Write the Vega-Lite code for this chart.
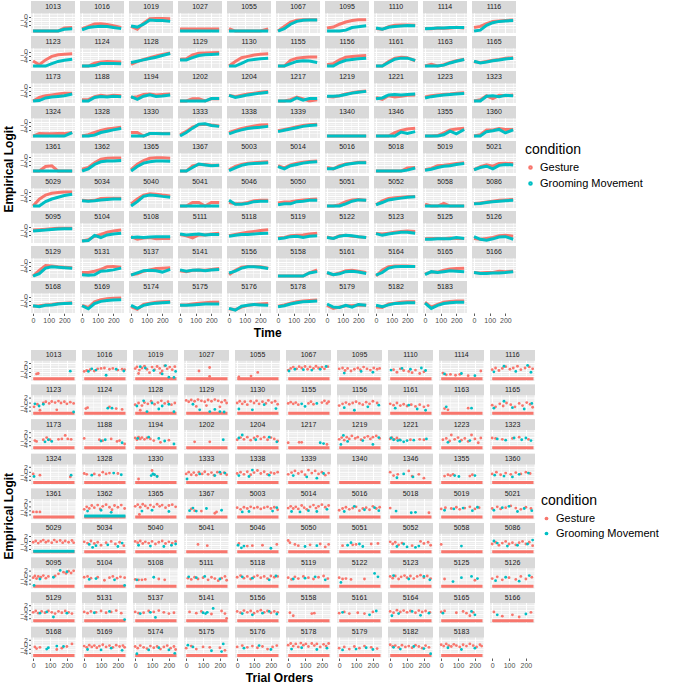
{
  "$schema": "https://vega.github.io/schema/vega-lite/v6.json",
  "description": "Empirical logit by subject: over time (top) and over trial order (bottom)",
  "background": "white",
  "padding": {"left": 2, "top": 0, "right": 0, "bottom": 0},
  "config": {
    "font": "Liberation Sans",
    "view": {"fill": "#EBEBEB", "stroke": null},
    "header": {"labelExpr": "''", "labelFontSize": 1, "labelPadding": 0, "title": null},
    "axis": {
      "domain": false,
      "gridColor": "#FFFFFF",
      "labelFontSize": 7,
      "labelColor": "#4D4D4D",
      "labelPadding": 1,
      "tickColor": "#333333",
      "tickSize": 2.5,
      "tickWidth": 0.8,
      "labelOverlap": false,
      "labelFlush": false,
      "labelBound": false,
      "title": null
    },
    "title": {"fontSize": 12, "fontWeight": "bold", "color": "#000000", "anchor": "middle", "offset": 0},
    "legend": {
      "titleFontSize": 14,
      "titleFontWeight": "normal",
      "titleColor": "#000000",
      "labelFontSize": 11,
      "labelColor": "#000000",
      "rowPadding": 3,
      "orient": "none"
    },
    "concat": {"spacing": 10}
  },
  "resolve": {"scale": {"color": "independent"}, "legend": {"color": "independent"}},
  "vconcat": [
    {
      "title": {"text": "Empirical Logit", "orient": "left"},
      "hconcat": [
        {
          "title": {"text": "Time", "orient": "bottom"},
          "data": {
            "values": "s,t,g,m\n1013,0,-6.6,-6.6\n1013,40,-6.6,-6.6\n1013,80,-6.6,-6.6\n1013,120,-6.6,-6.6\n1013,160,-6.6,-6.6\n1013,200,-5.2,-5.8\n1013,250,-5.0,-5.6\n1016,0,-5.5,-6.0\n1016,40,-4.5,-5.0\n1016,80,-3.4,-4.6\n1016,120,-3.3,-4.4\n1016,160,-3.6,-4.5\n1016,200,-4.2,-5.0\n1016,250,-5.0,-5.5\n1019,0,-4.5,-4.3\n1019,40,-5.8,-4.8\n1019,80,-3.0,-3.5\n1019,120,-1.0,-1.6\n1019,160,-0.9,-1.8\n1019,200,-0.9,-1.8\n1019,250,-1.0,-2.2\n1027,0,-5.7,-6.6\n1027,40,-5.7,-6.6\n1027,80,-5.7,-6.6\n1027,120,-5.7,-6.6\n1027,160,-5.7,-6.6\n1027,200,-5.7,-6.6\n1027,250,-5.7,-6.6\n1055,0,-5.5,-6.6\n1055,40,-6.6,-6.6\n1055,80,-6.6,-6.6\n1055,120,-6.6,-6.6\n1055,160,-6.6,-6.6\n1055,200,-6.6,-6.6\n1055,250,-5.6,-6.6\n1067,0,-6.6,-6.6\n1067,40,-4.5,-5.5\n1067,80,-2.5,-3.5\n1067,120,-1.7,-2.2\n1067,160,-1.5,-1.7\n1067,200,-1.5,-1.6\n1067,250,-1.5,-1.6\n1095,0,-5.2,-6.6\n1095,40,-4.8,-6.6\n1095,80,-3.5,-6.6\n1095,120,-2.5,-6.2\n1095,160,-1.8,-5.0\n1095,200,-1.5,-4.6\n1095,250,-1.4,-4.2\n1110,0,-5.5,-5.2\n1110,40,-5.8,-5.8\n1110,80,-4.6,-4.9\n1110,120,-4.0,-4.5\n1110,160,-3.9,-4.3\n1110,200,-3.8,-4.1\n1110,250,-4.0,-4.2\n1114,0,-5.5,-5.6\n1114,40,-5.6,-5.4\n1114,80,-5.2,-5.2\n1114,120,-5.3,-5.2\n1114,160,-5.2,-5.0\n1114,200,-4.9,-5.0\n1114,250,-5.2,-5.0\n1116,0,-5.0,-6.6\n1116,40,-4.5,-6.2\n1116,80,-3.2,-4.0\n1116,120,-2.2,-2.8\n1116,160,-2.0,-2.2\n1116,200,-1.8,-2.0\n1116,250,-1.6,-1.8\n1123,0,-4.3,-6.6\n1123,40,-6.0,-6.6\n1123,80,-3.8,-6.6\n1123,120,-2.2,-5.5\n1123,160,-1.5,-4.5\n1123,200,-1.2,-4.0\n1123,250,-1.0,-3.5\n1124,0,-6.6,-6.6\n1124,40,-6.6,-6.6\n1124,80,-5.3,-6.4\n1124,120,-4.8,-5.5\n1124,160,-4.5,-5.4\n1124,200,-4.6,-5.4\n1124,250,-4.8,-5.6\n1128,0,-5.8,-5.0\n1128,40,-4.6,-4.4\n1128,80,-3.6,-3.8\n1128,120,-2.8,-3.2\n1128,160,-2.0,-2.6\n1128,200,-1.3,-1.8\n1128,250,-0.6,-0.9\n1129,0,-3.5,-3.8\n1129,40,-3.3,-3.8\n1129,80,-1.5,-2.8\n1129,120,-0.8,-1.8\n1129,160,-0.6,-1.5\n1129,200,-0.5,-1.3\n1129,250,-0.4,-1.1\n1130,0,-6.6,-6.6\n1130,40,-4.5,-6.6\n1130,80,-2.8,-5.4\n1130,120,-2.2,-4.0\n1130,160,-1.6,-3.6\n1130,200,-1.2,-3.3\n1130,250,-1.0,-3.0\n1155,0,-6.6,-6.6\n1155,40,-6.6,-6.6\n1155,80,-4.0,-5.5\n1155,120,-3.0,-4.5\n1155,160,-2.7,-4.2\n1155,200,-2.5,-4.3\n1155,250,-2.5,-5.0\n1156,0,-6.0,-6.6\n1156,40,-5.5,-6.6\n1156,80,-3.8,-5.0\n1156,120,-2.6,-4.0\n1156,160,-2.2,-3.6\n1156,200,-2.0,-3.3\n1156,250,-1.8,-3.0\n1161,0,-6.6,-6.6\n1161,40,-6.6,-6.6\n1161,80,-4.5,-5.0\n1161,120,-3.0,-3.5\n1161,160,-2.6,-3.0\n1161,200,-2.8,-3.0\n1161,250,-4.2,-4.0\n1163,0,-6.6,-6.6\n1163,40,-5.8,-6.6\n1163,80,-6.6,-6.6\n1163,120,-6.0,-6.2\n1163,160,-5.0,-5.2\n1163,200,-4.2,-4.4\n1163,250,-3.5,-3.6\n1165,0,-4.6,-4.4\n1165,40,-5.0,-5.2\n1165,80,-4.5,-4.8\n1165,120,-4.0,-4.2\n1165,160,-3.6,-3.8\n1165,200,-3.0,-3.4\n1165,250,-2.8,-3.0\n1173,0,-6.6,-6.6\n1173,40,-5.0,-6.4\n1173,80,-4.2,-5.2\n1173,120,-3.8,-4.8\n1173,160,-3.4,-4.5\n1173,200,-3.0,-4.2\n1173,250,-3.0,-3.4\n1188,0,-6.0,-6.6\n1188,40,-6.0,-6.6\n1188,80,-4.6,-5.0\n1188,120,-4.0,-4.5\n1188,160,-4.4,-4.8\n1188,200,-4.0,-4.4\n1188,250,-4.2,-4.6\n1194,0,-5.0,-4.6\n1194,40,-4.6,-5.8\n1194,80,-3.6,-4.4\n1194,120,-3.4,-3.8\n1194,160,-3.8,-4.5\n1194,200,-3.6,-4.3\n1194,250,-3.4,-3.8\n1202,0,-6.6,-6.6\n1202,40,-6.6,-6.6\n1202,80,-5.6,-6.6\n1202,120,-5.6,-6.6\n1202,160,-6.6,-6.6\n1202,200,-5.6,-5.5\n1202,250,-5.6,-5.5\n1204,0,-4.0,-4.0\n1204,40,-4.6,-5.0\n1204,80,-4.0,-4.4\n1204,120,-3.4,-3.8\n1204,160,-3.0,-3.4\n1204,200,-2.6,-3.0\n1204,250,-2.2,-2.6\n1217,0,-6.6,-6.6\n1217,40,-6.6,-6.6\n1217,80,-6.0,-6.6\n1217,120,-4.8,-5.2\n1217,160,-5.6,-6.2\n1217,200,-6.6,-5.5\n1217,250,-6.0,-5.4\n1219,0,-4.5,-4.4\n1219,40,-4.8,-4.4\n1219,80,-4.2,-4.2\n1219,120,-3.4,-3.6\n1219,160,-2.8,-3.0\n1219,200,-2.4,-2.6\n1219,250,-2.0,-2.2\n1221,0,-5.0,-5.6\n1221,40,-5.8,-5.2\n1221,80,-4.2,-3.8\n1221,120,-4.8,-3.6\n1221,160,-4.4,-3.8\n1221,200,-4.0,-3.6\n1221,250,-3.8,-3.4\n1223,0,-4.8,-5.2\n1223,40,-4.2,-4.6\n1223,80,-3.8,-4.2\n1223,120,-3.6,-3.9\n1223,160,-3.4,-3.6\n1223,200,-3.0,-3.4\n1223,250,-2.8,-3.2\n1323,0,-6.6,-6.6\n1323,40,-6.0,-6.6\n1323,80,-4.2,-4.4\n1323,120,-5.5,-4.2\n1323,160,-4.0,-4.6\n1323,200,-4.2,-4.0\n1323,250,-3.8,-4.2\n1324,0,-6.6,-6.6\n1324,40,-5.5,-6.6\n1324,80,-5.6,-6.6\n1324,120,-5.6,-6.6\n1324,160,-5.5,-6.6\n1324,200,-5.5,-6.6\n1324,250,-5.0,-5.0\n1328,0,-6.6,-6.6\n1328,40,-6.0,-6.6\n1328,80,-5.0,-6.2\n1328,120,-4.0,-5.0\n1328,160,-3.4,-4.4\n1328,200,-3.0,-3.8\n1328,250,-2.6,-3.2\n1330,0,-5.0,-6.6\n1330,40,-5.0,-6.6\n1330,80,-6.6,-6.6\n1330,120,-5.4,-5.5\n1330,160,-5.4,-5.5\n1330,200,-5.5,-5.6\n1330,250,-5.5,-5.6\n1333,0,-6.0,-6.6\n1333,40,-4.5,-5.0\n1333,80,-2.5,-3.0\n1333,120,-1.4,-1.2\n1333,160,-1.2,-1.0\n1333,200,-1.6,-1.8\n1333,250,-2.0,-2.2\n1338,0,-5.0,-5.6\n1338,40,-4.0,-4.6\n1338,80,-3.2,-3.8\n1338,120,-2.6,-3.2\n1338,160,-2.0,-2.8\n1338,200,-1.6,-2.6\n1338,250,-1.4,-2.2\n1339,0,-4.2,-4.6\n1339,40,-3.6,-4.0\n1339,80,-3.0,-3.4\n1339,120,-2.4,-2.8\n1339,160,-1.8,-2.2\n1339,200,-1.4,-1.8\n1339,250,-1.2,-1.6\n1340,0,-6.6,-6.6\n1340,40,-6.6,-6.6\n1340,80,-6.6,-6.6\n1340,120,-6.6,-6.6\n1340,160,-6.6,-6.6\n1340,200,-6.6,-6.6\n1340,250,-6.6,-6.6\n1346,0,-6.6,-6.6\n1346,40,-6.6,-6.6\n1346,80,-6.6,-6.6\n1346,120,-5.0,-6.6\n1346,160,-4.0,-4.8\n1346,200,-3.4,-5.4\n1346,250,-3.0,-4.6\n1355,0,-6.6,-6.6\n1355,40,-6.6,-6.6\n1355,80,-6.4,-6.6\n1355,120,-5.2,-6.0\n1355,160,-3.8,-4.4\n1355,200,-3.4,-5.6\n1355,250,-3.0,-3.6\n1360,0,-6.6,-6.6\n1360,40,-6.0,-6.6\n1360,80,-3.8,-4.6\n1360,120,-3.8,-4.2\n1360,160,-3.2,-3.6\n1360,200,-3.6,-5.2\n1360,250,-3.6,-3.8\n1361,0,-6.6,-6.6\n1361,40,-6.6,-6.6\n1361,80,-4.5,-6.6\n1361,120,-4.2,-6.6\n1361,160,-6.6,-6.6\n1361,200,-6.6,-6.6\n1361,250,-6.6,-6.6\n1362,0,-5.8,-6.6\n1362,40,-5.0,-5.6\n1362,80,-2.8,-3.6\n1362,120,-1.2,-2.4\n1362,160,-0.8,-2.0\n1362,200,-0.6,-2.0\n1362,250,-0.6,-1.8\n1365,0,-6.0,-6.6\n1365,40,-3.5,-4.5\n1365,80,-1.8,-3.0\n1365,120,-0.8,-2.4\n1365,160,-0.5,-2.0\n1365,200,-0.5,-2.0\n1365,250,-0.8,-2.1\n1367,0,-6.6,-6.6\n1367,40,-6.6,-6.6\n1367,80,-4.2,-5.0\n1367,120,-3.6,-3.4\n1367,160,-3.6,-3.8\n1367,200,-4.0,-4.2\n1367,250,-4.0,-4.0\n5003,0,-6.0,-6.4\n5003,40,-4.5,-5.2\n5003,80,-3.6,-4.0\n5003,120,-3.0,-3.4\n5003,160,-2.8,-3.2\n5003,200,-2.6,-3.0\n5003,250,-2.4,-2.8\n5014,0,-4.2,-4.6\n5014,40,-5.2,-5.6\n5014,80,-3.8,-4.2\n5014,120,-3.0,-3.6\n5014,160,-2.6,-3.0\n5014,200,-2.2,-2.6\n5014,250,-2.0,-2.4\n5016,0,-5.0,-5.6\n5016,40,-5.6,-5.6\n5016,80,-4.2,-4.6\n5016,120,-3.4,-3.6\n5016,160,-3.0,-3.2\n5016,200,-2.6,-2.8\n5016,250,-2.6,-2.8\n5018,0,-6.6,-6.6\n5018,40,-6.6,-6.6\n5018,80,-6.6,-6.6\n5018,120,-6.6,-6.6\n5018,160,-6.6,-6.6\n5018,200,-5.2,-6.2\n5018,250,-5.0,-5.2\n5019,0,-6.0,-6.2\n5019,40,-5.4,-5.8\n5019,80,-4.2,-5.0\n5019,120,-4.0,-4.4\n5019,160,-3.6,-4.2\n5019,200,-3.2,-3.6\n5019,250,-2.8,-3.2\n5021,0,-6.0,-6.0\n5021,40,-4.6,-5.0\n5021,80,-3.8,-4.4\n5021,120,-4.4,-5.6\n5021,160,-3.2,-4.0\n5021,200,-3.0,-3.6\n5021,250,-3.2,-3.8\n5029,0,-6.6,-6.6\n5029,40,-3.5,-6.6\n5029,80,-1.6,-4.6\n5029,120,-0.8,-3.4\n5029,160,-0.4,-2.6\n5029,200,-0.2,-1.8\n5029,250,-0.2,-1.2\n5034,0,-4.0,-4.2\n5034,40,-4.2,-4.4\n5034,80,-4.0,-4.2\n5034,120,-3.2,-3.8\n5034,160,-3.0,-3.6\n5034,200,-3.0,-3.4\n5034,250,-3.0,-3.4\n5040,0,-5.6,-6.6\n5040,40,-3.4,-4.6\n5040,80,-1.6,-2.2\n5040,120,-1.0,-1.6\n5040,160,-1.2,-1.8\n5040,200,-1.6,-2.2\n5040,250,-2.0,-2.6\n5041,0,-6.6,-6.6\n5041,40,-6.6,-6.6\n5041,80,-5.0,-6.6\n5041,120,-5.0,-6.6\n5041,160,-6.6,-6.6\n5041,200,-5.0,-6.6\n5041,250,-5.0,-6.6\n5046,0,-5.0,-4.0\n5046,40,-5.6,-5.8\n5046,80,-5.6,-5.8\n5046,120,-5.0,-5.4\n5046,160,-4.2,-4.6\n5046,200,-4.0,-4.4\n5046,250,-4.0,-4.4\n5050,0,-5.2,-6.0\n5050,40,-4.8,-5.6\n5050,80,-4.6,-5.6\n5050,120,-4.2,-4.6\n5050,160,-3.8,-4.4\n5050,200,-3.6,-4.0\n5050,250,-3.4,-4.0\n5051,0,-6.6,-6.6\n5051,40,-6.6,-6.6\n5051,80,-6.0,-6.6\n5051,120,-4.6,-5.6\n5051,160,-3.8,-4.4\n5051,200,-3.6,-3.8\n5051,250,-4.0,-4.0\n5052,0,-6.0,-6.0\n5052,40,-4.2,-5.0\n5052,80,-3.2,-3.8\n5052,120,-2.8,-3.4\n5052,160,-2.6,-3.0\n5052,200,-2.4,-2.6\n5052,250,-2.2,-2.4\n5058,0,-5.8,-6.6\n5058,40,-6.6,-6.6\n5058,80,-6.6,-6.6\n5058,120,-5.4,-6.6\n5058,160,-6.6,-6.6\n5058,200,-6.6,-6.6\n5058,250,-6.6,-6.6\n5086,0,-5.6,-5.6\n5086,40,-5.2,-5.4\n5086,80,-4.8,-5.0\n5086,120,-4.4,-4.6\n5086,160,-4.0,-4.4\n5086,200,-3.8,-4.2\n5086,250,-3.6,-4.0\n5095,0,-1.6,-2.0\n5095,40,-1.4,-1.8\n5095,80,-1.2,-1.6\n5095,120,-1.0,-1.3\n5095,160,-0.8,-1.1\n5095,200,-0.8,-1.0\n5095,250,-0.8,-1.0\n5104,0,-6.6,-6.6\n5104,40,-6.0,-6.4\n5104,80,-4.4,-4.0\n5104,120,-3.6,-5.0\n5104,160,-2.6,-3.8\n5104,200,-2.0,-3.4\n5104,250,-1.6,-3.0\n5108,0,-4.6,-5.0\n5108,40,-5.8,-4.8\n5108,80,-5.2,-5.0\n5108,120,-5.0,-4.8\n5108,160,-5.6,-4.6\n5108,200,-5.4,-4.6\n5108,250,-5.4,-4.6\n5111,0,-3.6,-3.4\n5111,40,-4.2,-3.8\n5111,80,-5.2,-3.6\n5111,120,-3.8,-3.4\n5111,160,-3.8,-3.8\n5111,200,-3.4,-3.6\n5111,250,-3.0,-3.6\n5118,0,-4.2,-4.4\n5118,40,-3.6,-4.0\n5118,80,-3.0,-3.6\n5118,120,-2.6,-3.6\n5118,160,-2.2,-3.4\n5118,200,-1.8,-3.2\n5118,250,-1.5,-3.0\n5119,0,-5.2,-5.6\n5119,40,-5.0,-5.2\n5119,80,-4.2,-4.6\n5119,120,-4.0,-4.4\n5119,160,-3.8,-5.0\n5119,200,-3.4,-4.4\n5119,250,-3.0,-4.2\n5122,0,-4.8,-5.0\n5122,40,-5.4,-5.4\n5122,80,-4.2,-4.4\n5122,120,-4.0,-4.0\n5122,160,-4.4,-4.2\n5122,200,-4.6,-4.6\n5122,250,-5.0,-5.0\n5123,0,-3.2,-3.2\n5123,40,-3.4,-4.0\n5123,80,-3.0,-3.4\n5123,120,-2.6,-3.0\n5123,160,-2.2,-2.6\n5123,200,-2.0,-2.6\n5123,250,-2.2,-3.0\n5125,0,-5.6,-5.8\n5125,40,-5.4,-5.8\n5125,80,-5.4,-5.6\n5125,120,-5.6,-5.6\n5125,160,-5.2,-5.6\n5125,200,-5.4,-5.0\n5125,250,-5.4,-5.4\n5126,0,-5.4,-4.6\n5126,40,-5.8,-5.8\n5126,80,-5.4,-6.2\n5126,120,-5.0,-5.6\n5126,160,-4.2,-4.8\n5126,200,-4.0,-4.6\n5126,250,-4.4,-5.8\n5129,0,-6.6,-6.6\n5129,40,-4.0,-5.5\n5129,80,-1.8,-3.0\n5129,120,-2.0,-2.4\n5129,160,-2.4,-2.6\n5129,200,-2.6,-2.8\n5129,250,-2.8,-3.0\n5131,0,-5.0,-6.0\n5131,40,-5.0,-6.2\n5131,80,-4.4,-6.0\n5131,120,-3.6,-4.4\n5131,160,-2.4,-4.2\n5131,200,-2.2,-3.8\n5131,250,-2.6,-3.0\n5137,0,-6.0,-6.2\n5137,40,-5.6,-5.2\n5137,80,-4.4,-4.2\n5137,120,-3.8,-4.0\n5137,160,-3.2,-4.2\n5137,200,-3.0,-4.8\n5137,250,-2.8,-3.6\n5141,0,-4.2,-3.8\n5141,40,-4.6,-4.4\n5141,80,-4.0,-4.0\n5141,120,-3.8,-3.8\n5141,160,-4.0,-4.2\n5141,200,-3.6,-3.8\n5141,250,-3.2,-3.6\n5156,0,-6.0,-5.2\n5156,40,-4.0,-4.4\n5156,80,-2.6,-3.0\n5156,120,-2.2,-2.4\n5156,160,-2.2,-2.4\n5156,200,-2.4,-2.6\n5156,250,-3.0,-3.2\n5158,0,-6.6,-6.6\n5158,40,-6.6,-6.6\n5158,80,-6.6,-6.6\n5158,120,-6.6,-6.6\n5158,160,-6.6,-6.6\n5158,200,-5.2,-5.2\n5158,250,-3.8,-4.6\n5161,0,-5.2,-5.0\n5161,40,-6.0,-6.0\n5161,80,-5.2,-5.6\n5161,120,-4.2,-4.6\n5161,160,-4.0,-4.4\n5161,200,-4.4,-4.8\n5161,250,-5.0,-5.4\n5164,0,-6.6,-6.2\n5164,40,-3.8,-5.0\n5164,80,-2.4,-3.0\n5164,120,-2.0,-2.4\n5164,160,-2.0,-2.2\n5164,200,-2.0,-2.2\n5164,250,-2.2,-2.2\n5165,0,-5.6,-6.0\n5165,40,-4.8,-4.6\n5165,80,-4.8,-5.0\n5165,120,-4.0,-4.6\n5165,160,-3.4,-4.2\n5165,200,-3.2,-4.4\n5165,250,-3.0,-4.6\n5166,0,-5.0,-5.0\n5166,40,-5.2,-5.4\n5166,80,-5.0,-5.4\n5166,120,-5.0,-5.2\n5166,160,-4.4,-5.2\n5166,200,-4.6,-5.0\n5166,250,-4.4,-4.6\n5168,0,-4.4,-4.2\n5168,40,-4.2,-4.6\n5168,80,-3.8,-4.0\n5168,120,-3.6,-3.8\n5168,160,-3.2,-3.4\n5168,200,-3.0,-3.2\n5168,250,-2.8,-3.0\n5169,0,-4.0,-4.2\n5169,40,-5.0,-5.6\n5169,80,-2.4,-3.2\n5169,120,-1.4,-2.2\n5169,160,-1.0,-1.8\n5169,200,-0.8,-1.6\n5169,250,-0.6,-1.4\n5174,0,-4.6,-4.0\n5174,40,-5.8,-5.4\n5174,80,-3.6,-4.0\n5174,120,-3.0,-3.4\n5174,160,-2.6,-3.0\n5174,200,-2.4,-2.8\n5174,250,-2.2,-2.6\n5175,0,-3.8,-4.0\n5175,40,-3.8,-4.0\n5175,80,-3.4,-3.8\n5175,120,-3.0,-3.6\n5175,160,-2.8,-3.4\n5175,200,-2.6,-3.4\n5175,250,-2.6,-3.4\n5176,0,-5.6,-5.4\n5176,40,-6.0,-6.2\n5176,80,-4.8,-4.4\n5176,120,-4.0,-4.0\n5176,160,-3.6,-3.6\n5176,200,-3.4,-3.8\n5176,250,-3.2,-4.0\n5178,0,-4.4,-4.6\n5178,40,-3.8,-4.2\n5178,80,-3.0,-3.4\n5178,120,-2.4,-2.8\n5178,160,-2.0,-2.4\n5178,200,-1.8,-2.2\n5178,250,-1.6,-2.0\n5179,0,-4.0,-3.4\n5179,40,-5.4,-4.8\n5179,80,-4.8,-5.0\n5179,120,-4.2,-4.0\n5179,160,-4.2,-4.8\n5179,200,-3.8,-3.6\n5179,250,-4.0,-4.0\n5182,0,-4.8,-4.0\n5182,40,-5.0,-4.6\n5182,80,-3.4,-3.8\n5182,120,-3.0,-3.2\n5182,160,-2.6,-3.0\n5182,200,-2.4,-2.8\n5182,250,-2.4,-2.8\n5183,0,-2.6,-3.0\n5183,40,-4.8,-5.4\n5183,80,-3.6,-4.0\n5183,120,-2.6,-3.2\n5183,160,-2.2,-2.8\n5183,200,-2.0,-2.6\n5183,250,-2.0,-2.6",
            "format": {"type": "csv", "parse": {"s": "string", "t": "number", "g": "number", "m": "number"}}
          },
          "transform": [{"fold": ["g", "m"], "as": ["c", "v"]}],
          "facet": {"field": "s", "type": "ordinal", "header": {"labelExpr": "''", "labelFontSize": 1, "labelPadding": 0, "title": null}},
          "columns": 10,
          "bounds": "flush",
          "spacing": {"row": 3, "column": 5},
          "spec": {
            "width": 44,
            "height": 32,
            "layer": [
              {
                "mark": {"type": "line", "strokeWidth": 3, "clip": true},
                "encoding": {
                  "x": {
                    "field": "t", "type": "quantitative",
                    "scale": {"domain": [-13, 268], "nice": false, "zero": false},
                    "axis": {"values": [0, 50, 100, 150, 200, 250], "labelOverlap": false, "labelExpr": "datum.value % 100 == 0 ? datum.label : ''", "gridWidth": {"condition": {"test": "datum.value % 100 == 0", "value": 1}, "value": 0.5}, "tickOpacity": {"condition": {"test": "datum.value % 100 == 0", "value": 1}, "value": 0}}
                  },
                  "y": {
                    "field": "v", "type": "quantitative",
                    "scale": {"domain": [-7.5, 7.1], "nice": false, "zero": false},
                    "axis": {"values": [-5, -4, -3, -2, -1, 0, 1], "labelOverlap": false, "labelExpr": "datum.value % 2 == 0 ? datum.label : ''", "gridWidth": {"condition": {"test": "datum.value % 2 == 0", "value": 1}, "value": 0.5}, "tickOpacity": {"condition": {"test": "datum.value % 2 == 0", "value": 1}, "value": 0}}
                  },
                  "color": {
                    "field": "c", "type": "nominal",
                    "scale": {"domain": ["g", "m"], "range": ["#F8766D", "#00BFC4"]},
                    "legend": {
                      "title": "condition",
                      "labelExpr": "datum.value == 'g' ? 'Gesture' : 'Grooming Movement'",
                      "symbolType": "circle",
                      "symbolSize": 4,
                      "symbolStrokeWidth": 2.6,
                      "legendX": 494,
                      "legendY": 142
                    }
                  }
                }
              },
              {
                "transform": [{"aggregate": [{"op": "count", "as": "n"}], "groupby": ["s"]}],
                "mark": {"type": "rect", "color": "#D9D9D9"},
                "encoding": {
                  "x": {"datum": -13, "scale": {"domain": [-13, 268], "nice": false, "zero": false}, "axis": {"values": [0, 50, 100, 150, 200, 250], "labelOverlap": false, "labelExpr": "datum.value % 100 == 0 ? datum.label : ''", "gridWidth": {"condition": {"test": "datum.value % 100 == 0", "value": 1}, "value": 0.5}, "tickOpacity": {"condition": {"test": "datum.value % 100 == 0", "value": 1}, "value": 0}}},
                  "x2": {"datum": 268},
                  "y": {"datum": 1.5, "scale": {"domain": [-7.5, 7.1], "nice": false, "zero": false}, "axis": {"values": [-5, -4, -3, -2, -1, 0, 1], "labelOverlap": false, "labelExpr": "datum.value % 2 == 0 ? datum.label : ''", "gridWidth": {"condition": {"test": "datum.value % 2 == 0", "value": 1}, "value": 0.5}, "tickOpacity": {"condition": {"test": "datum.value % 2 == 0", "value": 1}, "value": 0}}},
                  "y2": {"datum": 7.1}
                }
              },
              {
                "transform": [{"aggregate": [{"op": "count", "as": "n"}], "groupby": ["s"]}],
                "mark": {"type": "text", "fontSize": 7, "color": "#1A1A1A", "baseline": "middle"},
                "encoding": {
                  "x": {"datum": 127.5, "scale": {"domain": [-13, 268], "nice": false, "zero": false}, "axis": {"values": [0, 50, 100, 150, 200, 250], "labelOverlap": false, "labelExpr": "datum.value % 100 == 0 ? datum.label : ''", "gridWidth": {"condition": {"test": "datum.value % 100 == 0", "value": 1}, "value": 0.5}, "tickOpacity": {"condition": {"test": "datum.value % 100 == 0", "value": 1}, "value": 0}}},
                  "y": {"datum": 4.3, "scale": {"domain": [-7.5, 7.1], "nice": false, "zero": false}, "axis": {"values": [-5, -4, -3, -2, -1, 0, 1], "labelOverlap": false, "labelExpr": "datum.value % 2 == 0 ? datum.label : ''", "gridWidth": {"condition": {"test": "datum.value % 2 == 0", "value": 1}, "value": 0.5}, "tickOpacity": {"condition": {"test": "datum.value % 2 == 0", "value": 1}, "value": 0}}},
                  "text": {"field": "s", "type": "nominal"}
                }
              }
            ]
          }
        }
      ]
    },
    {
      "title": {"text": "Empirical Logit", "orient": "left"},
      "hconcat": [
        {
          "title": {"text": "Trial Orders", "orient": "bottom"},
          "data": {
            "values": "s,c,t,v\n1013,B,0,-5.2\n1013,B,245,-5.2\n1016,B,0,-5.2\n1016,B,245,-5.2\n1019,B,0,-5.2\n1019,B,245,-5.2\n1027,B,0,-5.2\n1027,B,245,-5.2\n1055,B,0,-5.2\n1055,B,245,-5.2\n1067,B,0,-5.2\n1067,B,245,-5.2\n1095,B,0,-5.2\n1095,B,245,-5.2\n1110,B,0,-5.2\n1110,B,245,-5.2\n1114,B,0,-5.2\n1114,B,245,-5.2\n1116,B,0,-5.2\n1116,B,245,-5.2\n1123,B,0,-5.2\n1123,B,245,-5.2\n1124,B,0,-5.2\n1124,B,245,-5.2\n1128,B,0,-5.2\n1128,B,245,-5.2\n1129,B,0,-5.2\n1129,B,245,-5.2\n1130,B,0,-5.2\n1130,B,245,-5.2\n1155,B,0,-5.2\n1155,B,245,-5.2\n1156,B,0,-5.2\n1156,B,245,-5.2\n1161,B,0,-5.2\n1161,B,245,-5.2\n1163,B,0,-5.2\n1163,B,245,-5.2\n1165,B,0,-5.2\n1165,B,245,-5.2\n1173,B,0,-5.2\n1173,B,245,-5.2\n1188,B,0,-5.2\n1188,B,245,-5.2\n1194,B,0,-5.2\n1194,B,245,-5.2\n1202,B,0,-5.2\n1202,B,245,-5.2\n1204,B,0,-5.2\n1204,B,245,-5.2\n1217,B,0,-5.2\n1217,B,245,-5.2\n1219,B,0,-5.2\n1219,B,245,-5.2\n1221,B,0,-5.2\n1221,B,245,-5.2\n1223,B,0,-5.2\n1223,B,245,-5.2\n1323,B,0,-5.2\n1323,B,245,-5.2\n1324,B,0,-5.2\n1324,B,245,-5.2\n1328,B,0,-5.2\n1328,B,245,-5.2\n1330,B,0,-5.2\n1330,B,245,-5.2\n1333,B,0,-5.2\n1333,B,245,-5.2\n1338,B,0,-5.2\n1338,B,245,-5.2\n1339,B,0,-5.2\n1339,B,245,-5.2\n1340,B,0,-5.2\n1340,B,245,-5.2\n1346,B,0,-5.2\n1346,B,245,-5.2\n1355,B,0,-5.2\n1355,B,245,-5.2\n1360,B,0,-5.2\n1360,B,245,-5.2\n1361,B,0,-5.2\n1361,B,245,-5.2\n1362,B,0,-5.2\n1362,B,245,-5.2\n1365,B,0,-5.2\n1365,B,245,-5.2\n1367,B,0,-5.2\n1367,B,245,-5.2\n5003,B,0,-5.2\n5003,B,245,-5.2\n5014,B,0,-5.2\n5014,B,245,-5.2\n5016,B,0,-5.2\n5016,B,245,-5.2\n5018,B,0,-5.2\n5018,B,245,-5.2\n5019,B,0,-5.2\n5019,B,245,-5.2\n5021,B,0,-5.2\n5021,B,245,-5.2\n5029,B,0,-5.2\n5029,B,245,-5.2\n5034,B,0,-5.2\n5034,B,245,-5.2\n5040,B,0,-5.2\n5040,B,245,-5.2\n5041,B,0,-5.2\n5041,B,245,-5.2\n5046,B,0,-5.2\n5046,B,245,-5.2\n5050,B,0,-5.2\n5050,B,245,-5.2\n5051,B,0,-5.2\n5051,B,245,-5.2\n5052,B,0,-5.2\n5052,B,245,-5.2\n5058,B,0,-5.2\n5058,B,245,-5.2\n5086,B,0,-5.2\n5086,B,245,-5.2\n5095,B,0,-5.2\n5095,B,245,-5.2\n5104,B,0,-5.2\n5104,B,245,-5.2\n5108,B,0,-5.2\n5108,B,245,-5.2\n5111,B,0,-5.2\n5111,B,245,-5.2\n5118,B,0,-5.2\n5118,B,245,-5.2\n5119,B,0,-5.2\n5119,B,245,-5.2\n5122,B,0,-5.2\n5122,B,245,-5.2\n5123,B,0,-5.2\n5123,B,245,-5.2\n5125,B,0,-5.2\n5125,B,245,-5.2\n5126,B,0,-5.2\n5126,B,245,-5.2\n5129,B,0,-5.2\n5129,B,245,-5.2\n5131,B,0,-5.2\n5131,B,245,-5.2\n5137,B,0,-5.2\n5137,B,245,-5.2\n5141,B,0,-5.2\n5141,B,245,-5.2\n5156,B,0,-5.2\n5156,B,245,-5.2\n5158,B,0,-5.2\n5158,B,245,-5.2\n5161,B,0,-5.2\n5161,B,245,-5.2\n5164,B,0,-5.2\n5164,B,245,-5.2\n5165,B,0,-5.2\n5165,B,245,-5.2\n5166,B,0,-5.2\n5166,B,245,-5.2\n5168,B,0,-5.2\n5168,B,245,-5.2\n5169,B,0,-5.2\n5169,B,245,-5.2\n5174,B,0,-5.2\n5174,B,245,-5.2\n5175,B,0,-5.2\n5175,B,245,-5.2\n5176,B,0,-5.2\n5176,B,245,-5.2\n5178,B,0,-5.2\n5178,B,245,-5.2\n5179,B,0,-5.2\n5179,B,245,-5.2\n5182,B,0,-5.2\n5182,B,245,-5.2\n5183,B,0,-5.2\n5183,B,245,-5.2\n1362,C,0,-4.7\n1362,C,245,-4.7\n5029,C,0,-5.0\n5029,C,245,-5.0\n1013,G,20,-3.0\n1013,G,30,-2.8\n1013,M,220,-1.7\n1016,G,0,-1.8\n1016,G,15,-1.4\n1016,G,35,-1.0\n1016,G,60,-1.6\n1016,G,80,-0.6\n1016,G,100,-0.4\n1016,G,120,-0.2\n1016,G,150,-0.8\n1016,G,170,-0.4\n1016,G,200,-1.2\n1016,G,225,-0.8\n1016,G,240,-1.0\n1016,M,25,-1.8\n1016,M,45,-0.6\n1016,M,70,-1.2\n1016,M,130,-3.6\n1016,M,190,-0.8\n1016,M,235,-1.6\n1019,G,0,-0.5\n1019,G,10,0.3\n1019,G,25,-1.2\n1019,G,40,-0.2\n1019,G,55,0.6\n1019,G,70,-0.8\n1019,G,85,-2.4\n1019,G,100,0.2\n1019,G,115,-1.0\n1019,G,130,0.5\n1019,G,145,-0.4\n1019,G,160,-1.6\n1019,G,175,0.8\n1019,G,190,-0.6\n1019,G,205,0.2\n1019,G,220,-1.0\n1019,G,235,0.4\n1019,G,20,-2.8\n1019,G,150,-2.6\n1019,M,30,0.4\n1019,M,60,-0.2\n1019,M,110,-1.4\n1019,M,160,-3.0\n1019,M,180,0.9\n1019,M,200,-4.5\n1019,M,230,-4.6\n1019,M,240,-1.8\n1027,G,76,-1.6\n1027,G,139,0.0\n1027,G,139,-4.2\n1055,G,10,-4.4\n1055,G,82,-4.0\n1055,G,122,-2.3\n1067,G,0,-1.2\n1067,G,15,-0.4\n1067,G,30,0.2\n1067,G,50,-0.6\n1067,G,65,0.4\n1067,G,80,-0.2\n1067,G,100,0.5\n1067,G,115,-0.8\n1067,G,130,0.3\n1067,G,150,-0.4\n1067,G,165,0.6\n1067,G,180,-0.2\n1067,G,200,0.2\n1067,G,215,-0.6\n1067,G,235,0.4\n1067,M,5,-1.6\n1067,M,40,-0.8\n1067,M,90,-1.0\n1067,M,140,-1.2\n1067,M,190,-0.8\n1067,M,225,0.5\n1095,G,0,-0.6\n1095,G,20,-0.2\n1095,G,35,-1.4\n1095,G,50,-0.4\n1095,G,70,-1.6\n1095,G,90,-0.8\n1095,G,110,-0.2\n1095,G,125,-1.0\n1095,G,145,0.2\n1095,G,165,-0.6\n1095,G,185,-1.2\n1095,G,205,-0.2\n1095,G,225,-0.8\n1095,G,240,-0.4\n1095,M,30,-2.6\n1095,M,130,-1.8\n1095,M,200,-2.2\n1110,G,20,-1.0\n1110,G,40,-2.2\n1110,G,60,-0.6\n1110,G,80,-1.4\n1110,G,110,-1.8\n1110,G,130,-2.4\n1110,G,150,-1.2\n1110,G,175,-2.8\n1110,G,200,-2.0\n1110,M,5,-1.2\n1110,M,70,-0.4\n1110,M,120,-0.8\n1110,M,185,-0.2\n1110,M,210,-1.4\n1114,G,10,-2.6\n1114,G,30,-3.4\n1114,G,55,-3.2\n1114,G,85,-3.6\n1114,G,110,-3.2\n1114,G,160,-3.8\n1114,G,235,-1.6\n1114,M,20,-3.0\n1114,M,200,-3.8\n1114,M,120,-2.8\n1116,G,0,-1.0\n1116,G,20,-0.2\n1116,G,40,-1.4\n1116,G,60,-0.4\n1116,G,80,0.4\n1116,G,105,-0.8\n1116,G,125,-0.2\n1116,G,150,0.6\n1116,G,170,-1.0\n1116,G,195,-0.2\n1116,G,220,0.3\n1116,G,240,-0.6\n1116,M,10,-2.0\n1116,M,70,0.6\n1116,M,140,-1.8\n1116,M,210,1.0\n1116,M,230,-2.2\n1123,G,5,-2.2\n1123,G,25,-1.0\n1123,G,60,-0.4\n1123,G,75,0.2\n1123,G,95,-0.6\n1123,G,110,0.3\n1123,G,130,-0.2\n1123,G,150,0.5\n1123,G,165,-0.4\n1123,G,185,0.2\n1123,G,200,-0.8\n1123,G,220,0.0\n1123,G,240,-0.6\n1123,G,40,-3.8\n1123,G,140,-3.6\n1123,M,10,-0.8\n1123,M,35,-1.8\n1123,M,60,-1.0\n1123,M,240,-4.6\n1124,G,10,-3.0\n1124,G,20,-2.6\n1124,G,150,-2.2\n1124,G,190,-3.0\n1124,G,225,-3.4\n1124,M,140,-2.8\n1124,M,165,-2.8\n1128,G,0,-1.2\n1128,G,20,-0.4\n1128,G,40,-1.6\n1128,G,55,-0.2\n1128,G,75,-0.8\n1128,G,95,0.4\n1128,G,115,-1.0\n1128,G,135,-0.2\n1128,G,155,0.6\n1128,G,175,-0.6\n1128,G,195,0.2\n1128,G,215,-1.2\n1128,G,235,-0.4\n1128,G,30,-3.8\n1128,M,10,-1.8\n1128,M,50,0.6\n1128,M,70,-4.4\n1128,M,100,-0.4\n1128,M,140,-3.2\n1128,M,160,-1.8\n1128,M,200,-1.0\n1128,M,230,-4.5\n1129,G,0,0.8\n1129,G,15,0.2\n1129,G,30,1.0\n1129,G,50,0.4\n1129,G,70,1.2\n1129,G,90,0.6\n1129,G,110,0.2\n1129,G,130,1.0\n1129,G,150,0.4\n1129,G,170,1.2\n1129,G,190,0.6\n1129,G,210,0.0\n1129,G,230,0.8\n1129,G,240,-0.4\n1129,G,60,-2.0\n1129,G,120,-1.6\n1129,G,200,-2.2\n1129,M,40,-1.0\n1129,M,80,-3.6\n1129,M,140,-4.4\n1129,M,170,-3.4\n1129,M,200,-4.4\n1129,M,225,-4.6\n1130,G,0,-0.4\n1130,G,15,0.4\n1130,G,30,-0.8\n1130,G,45,0.2\n1130,G,60,-1.2\n1130,G,80,0.4\n1130,G,100,-0.4\n1130,G,115,0.6\n1130,G,130,-0.8\n1130,G,150,0.2\n1130,G,170,-0.6\n1130,G,185,0.8\n1130,G,205,-0.2\n1130,G,225,0.4\n1130,G,240,-1.0\n1130,M,10,-3.2\n1130,M,90,-3.6\n1130,M,160,-1.2\n1130,M,230,-3.0\n1155,G,0,-0.6\n1155,G,15,0.0\n1155,G,30,-0.8\n1155,G,45,-0.2\n1155,G,60,-1.2\n1155,G,120,-0.6\n1155,G,135,0.2\n1155,G,150,-1.0\n1155,G,200,-0.2\n1155,G,215,0.6\n1155,G,230,-0.6\n1155,G,240,0.2\n1155,M,80,-0.8\n1155,M,170,-0.6\n1155,M,100,-2.0\n1156,G,0,-1.6\n1156,G,20,-0.8\n1156,G,40,-0.2\n1156,G,60,-1.0\n1156,G,80,-0.4\n1156,G,100,0.2\n1156,G,120,-0.6\n1156,G,140,-1.2\n1156,G,160,0.0\n1156,G,180,-0.8\n1156,G,200,0.4\n1156,G,225,-0.4\n1156,M,30,-2.6\n1156,M,90,-3.8\n1156,M,170,-2.2\n1156,M,235,-1.4\n1161,G,0,-0.8\n1161,G,20,-1.4\n1161,G,40,-0.4\n1161,G,60,-1.6\n1161,G,80,-1.0\n1161,G,100,-1.8\n1161,G,125,-1.2\n1161,G,150,-2.0\n1161,G,175,-1.2\n1161,G,200,-2.2\n1161,G,225,-1.6\n1161,M,30,-2.8\n1161,M,110,-1.4\n1161,M,160,-3.2\n1161,M,210,-3.8\n1163,G,20,-3.0\n1163,G,40,-3.6\n1163,G,160,-2.8\n1163,M,30,-2.2\n1163,M,180,-2.8\n1165,G,0,-1.4\n1165,G,20,-2.2\n1165,G,45,-0.8\n1165,G,65,-1.8\n1165,G,85,-0.4\n1165,G,110,-1.2\n1165,G,135,-2.2\n1165,G,160,-0.6\n1165,G,180,-1.6\n1165,G,205,-0.2\n1165,G,225,-1.0\n1165,G,240,-2.4\n1165,M,10,-2.8\n1165,M,70,0.4\n1165,M,120,-2.6\n1165,M,190,-3.2\n1165,M,235,-0.6\n1173,G,10,-1.8\n1173,G,20,-2.2\n1173,G,60,-1.4\n1173,G,80,-0.4\n1173,G,100,-1.4\n1173,G,150,-1.2\n1173,G,170,-1.0\n1173,G,190,0.6\n1173,G,205,-1.0\n1173,G,225,-1.2\n1173,M,70,-2.4\n1173,M,90,-1.4\n1173,M,110,-2.2\n1188,G,0,-0.8\n1188,G,90,-1.4\n1188,G,110,-1.8\n1188,G,160,-1.0\n1188,G,195,-2.2\n1188,G,210,-1.8\n1188,G,240,-3.4\n1188,M,100,-2.0\n1188,M,125,-1.4\n1188,M,225,-2.8\n1194,G,0,-0.6\n1194,G,10,-1.4\n1194,G,20,-0.2\n1194,G,30,-1.0\n1194,G,40,-0.4\n1194,G,55,-1.2\n1194,G,70,-0.6\n1194,G,90,-1.0\n1194,G,110,-1.8\n1194,G,150,-2.6\n1194,G,200,-1.6\n1194,M,15,-0.8\n1194,M,80,-0.2\n1194,M,140,-0.8\n1194,M,175,-2.0\n1194,M,230,-3.4\n1202,G,50,-2.4\n1202,G,140,-2.4\n1202,M,220,-1.4\n1204,G,0,-1.4\n1204,G,20,-0.4\n1204,G,40,-1.2\n1204,G,60,-0.2\n1204,G,80,-1.6\n1204,G,100,-0.6\n1204,G,120,0.2\n1204,G,140,-1.0\n1204,G,160,-0.2\n1204,G,180,-1.4\n1204,G,200,-0.4\n1204,G,220,-1.0\n1204,G,240,-2.0\n1204,M,10,-0.6\n1204,M,30,0.8\n1204,M,110,-1.4\n1204,M,190,-0.2\n1204,M,235,-2.4\n1217,G,0,-2.8\n1217,G,65,-2.6\n1217,G,80,-2.6\n1217,G,230,-3.6\n1217,M,190,-2.8\n1217,M,210,-3.2\n1219,G,0,-1.2\n1219,G,15,-0.4\n1219,G,30,-1.6\n1219,G,45,-0.2\n1219,G,60,-1.0\n1219,G,75,0.4\n1219,G,95,-0.8\n1219,G,110,-0.2\n1219,G,130,-1.4\n1219,G,150,-0.4\n1219,G,170,0.2\n1219,G,185,-1.0\n1219,G,200,-0.2\n1219,G,220,0.4\n1219,G,240,-0.8\n1219,M,10,-3.6\n1219,M,25,0.6\n1219,M,50,-2.2\n1219,M,140,-1.8\n1219,M,200,-3.6\n1219,M,235,-0.4\n1221,G,0,-1.0\n1221,G,10,-0.4\n1221,G,25,-1.2\n1221,G,40,-0.6\n1221,G,55,-1.4\n1221,G,120,-1.4\n1221,G,175,-1.2\n1221,G,200,-1.4\n1221,M,5,-0.6\n1221,M,20,-1.4\n1221,M,45,-1.8\n1221,M,60,-1.6\n1221,M,80,-2.4\n1221,M,100,-1.8\n1221,M,140,-1.6\n1221,M,215,-1.0\n1223,G,10,-1.4\n1223,G,30,-0.8\n1223,G,50,-2.0\n1223,G,60,0.8\n1223,G,80,-1.2\n1223,G,100,-0.4\n1223,G,120,-1.6\n1223,G,140,-0.8\n1223,G,160,-2.2\n1223,G,180,0.8\n1223,G,200,-1.0\n1223,G,220,-2.8\n1223,G,235,-0.6\n1223,M,40,-2.6\n1223,M,110,-2.2\n1223,M,170,-1.8\n1323,G,0,-0.6\n1323,G,20,-0.8\n1323,G,60,-1.2\n1323,G,120,-0.8\n1323,G,160,-0.2\n1323,G,215,-1.2\n1323,M,30,-1.0\n1323,M,80,-1.6\n1323,M,130,-0.6\n1323,M,175,-1.4\n1323,M,200,-0.6\n1323,M,230,-1.8\n1324,G,0,-1.2\n1324,G,40,-1.8\n1324,G,220,-2.6\n1324,M,5,-2.4\n1324,M,225,-1.8\n1328,G,0,-1.0\n1328,G,15,-1.4\n1328,G,60,-1.2\n1328,G,90,-1.8\n1328,G,110,-0.4\n1328,G,130,-1.2\n1328,G,150,-0.8\n1328,G,200,-1.0\n1328,M,45,-1.8\n1328,M,175,-0.8\n1328,M,220,-1.6\n1330,G,20,-3.6\n1330,G,100,0.4\n1330,G,110,-1.4\n1330,G,130,-2.2\n1330,M,95,-2.0\n1330,M,115,-1.6\n1330,M,130,-2.4\n1330,M,105,-1.2\n1333,G,0,-1.2\n1333,G,15,-0.4\n1333,G,30,-1.6\n1333,G,45,-0.6\n1333,G,60,-1.8\n1333,G,75,-0.4\n1333,G,95,-1.2\n1333,G,110,-0.2\n1333,G,130,-1.4\n1333,G,150,-0.6\n1333,G,165,-1.8\n1333,G,185,-0.4\n1333,G,205,-1.2\n1333,G,225,-0.6\n1333,G,240,-1.6\n1333,M,5,-3.6\n1333,M,80,-1.2\n1333,M,170,-2.0\n1333,M,200,-0.4\n1333,M,230,-0.8\n1338,G,0,-1.0\n1338,G,20,-0.4\n1338,G,40,-1.4\n1338,G,60,-0.2\n1338,G,80,-1.6\n1338,G,100,-0.6\n1338,G,120,0.4\n1338,G,140,-1.0\n1338,G,160,-0.2\n1338,G,180,-1.4\n1338,G,200,-0.6\n1338,G,220,-1.0\n1338,G,240,-0.4\n1338,M,10,-2.0\n1338,M,70,-2.4\n1338,M,90,0.6\n1338,M,190,-1.8\n1339,G,0,-1.4\n1339,G,20,-0.6\n1339,G,40,0.2\n1339,G,60,-1.0\n1339,G,80,-0.2\n1339,G,100,-1.6\n1339,G,120,0.6\n1339,G,140,-0.8\n1339,G,160,0.2\n1339,G,180,-1.2\n1339,G,200,-0.4\n1339,G,220,-1.8\n1339,G,240,-0.8\n1339,M,30,-2.0\n1339,M,110,-2.6\n1339,M,170,-3.2\n1339,M,210,-1.0\n1346,G,0,-0.4\n1346,G,20,-2.0\n1346,G,45,-1.4\n1346,G,110,0.2\n1346,G,130,-2.2\n1346,G,170,-1.4\n1346,G,200,-3.2\n1346,M,40,-3.0\n1346,M,80,-1.2\n1346,M,135,-2.6\n1355,G,20,-2.2\n1355,G,40,-1.6\n1355,G,55,-2.0\n1355,G,70,-1.4\n1355,G,170,-2.2\n1355,G,185,-1.6\n1355,M,80,-2.0\n1355,M,105,-2.4\n1355,M,200,-2.0\n1360,G,0,-1.2\n1360,G,25,-0.4\n1360,G,50,-1.6\n1360,G,80,-0.8\n1360,G,110,-1.4\n1360,G,140,-0.6\n1360,G,170,-1.2\n1360,G,200,-0.4\n1360,G,225,-1.0\n1360,M,15,-1.8\n1360,M,70,-2.2\n1360,M,120,-2.6\n1360,M,160,-1.4\n1360,M,215,-0.8\n1361,G,0,-2.8\n1361,G,20,-2.8\n1361,G,40,-2.8\n1362,G,0,-1.6\n1362,G,15,-0.4\n1362,G,30,-1.2\n1362,G,45,0.2\n1362,G,60,-0.8\n1362,G,80,0.4\n1362,G,95,-1.4\n1362,G,110,-0.2\n1362,G,130,0.6\n1362,G,150,-0.6\n1362,G,165,-1.8\n1362,G,180,0.2\n1362,G,200,-0.6\n1362,G,220,0.4\n1362,G,240,-1.2\n1362,M,20,-2.4\n1362,M,100,-2.0\n1362,M,160,-3.0\n1365,G,0,-0.2\n1365,G,15,0.6\n1365,G,30,-0.6\n1365,G,45,0.8\n1365,G,60,0.0\n1365,G,75,-1.0\n1365,G,90,0.4\n1365,G,110,-0.4\n1365,G,130,0.8\n1365,G,145,-0.2\n1365,G,160,0.4\n1365,G,180,-0.8\n1365,G,200,0.2\n1365,G,220,0.6\n1365,G,240,-0.4\n1365,G,25,-4.0\n1365,M,40,-2.4\n1365,M,100,-2.0\n1365,M,200,-2.6\n1367,G,30,-1.4\n1367,G,50,-2.2\n1367,G,90,-2.4\n1367,G,170,-3.4\n1367,G,180,-2.8\n1367,M,20,-2.2\n1367,M,40,-1.0\n1367,M,60,-2.4\n1367,M,120,-1.2\n1367,M,210,-2.0\n5003,G,0,-0.8\n5003,G,20,-1.6\n5003,G,40,-0.6\n5003,G,60,-1.2\n5003,G,80,-0.4\n5003,G,100,-1.0\n5003,G,120,-0.6\n5003,G,140,-1.4\n5003,G,160,-0.8\n5003,G,180,-0.4\n5003,G,200,-1.2\n5003,G,220,-0.6\n5003,G,240,-1.8\n5003,M,30,-2.8\n5003,M,70,-2.6\n5003,M,210,-2.4\n5003,M,235,-0.8\n5014,G,0,-1.0\n5014,G,15,-0.2\n5014,G,30,-1.2\n5014,G,45,-0.4\n5014,G,60,-1.4\n5014,G,80,0.2\n5014,G,95,-0.8\n5014,G,110,-1.6\n5014,G,130,-0.4\n5014,G,150,0.4\n5014,G,165,-1.0\n5014,G,180,-0.2\n5014,G,200,0.6\n5014,G,220,-0.6\n5014,G,240,0.2\n5014,M,20,-2.6\n5014,M,70,-2.8\n5014,M,120,-2.2\n5014,M,170,-2.6\n5014,M,230,-1.6\n5016,G,0,-2.0\n5016,G,20,-1.2\n5016,G,40,-0.6\n5016,G,60,-1.6\n5016,G,80,-1.0\n5016,G,100,-0.4\n5016,G,120,-2.2\n5016,G,140,-1.2\n5016,G,160,-0.8\n5016,G,180,-1.8\n5016,G,200,-0.2\n5016,G,220,-1.2\n5016,G,240,-0.6\n5016,M,30,-2.6\n5016,M,90,-0.2\n5016,M,150,-1.8\n5016,M,210,-0.8\n5016,M,235,-2.2\n5018,G,0,-1.0\n5018,G,230,-3.2\n5018,M,35,-2.4\n5018,M,125,-3.2\n5018,M,150,-3.0\n5019,G,0,-1.4\n5019,G,25,-0.8\n5019,G,60,-1.2\n5019,G,90,-0.6\n5019,G,110,-1.6\n5019,G,140,-1.0\n5019,G,170,-0.4\n5019,G,200,-1.4\n5019,G,225,-0.8\n5019,M,20,-2.0\n5019,M,75,-1.4\n5019,M,130,-1.0\n5019,M,185,-2.2\n5019,M,215,-0.6\n5021,G,0,-1.2\n5021,G,30,-0.4\n5021,G,50,-1.4\n5021,G,80,-0.8\n5021,G,110,0.0\n5021,G,140,-1.0\n5021,G,170,-1.6\n5021,G,200,-0.6\n5021,G,230,-1.2\n5021,M,10,-2.0\n5021,M,60,-0.8\n5021,M,100,-0.2\n5021,M,150,-2.6\n5021,M,190,-1.2\n5021,M,235,-2.2\n5029,G,0,-0.8\n5029,G,15,-0.2\n5029,G,30,-1.2\n5029,G,45,-0.4\n5029,G,60,0.2\n5029,G,75,-0.8\n5029,G,90,-0.2\n5029,G,110,-1.0\n5029,G,125,0.2\n5029,G,140,-0.6\n5029,G,160,0.0\n5029,G,175,-1.0\n5029,G,190,-0.2\n5029,G,210,-0.8\n5029,G,230,0.0\n5029,G,240,-1.0\n5034,G,0,-0.6\n5034,G,20,-1.2\n5034,G,40,-0.2\n5034,G,60,-1.4\n5034,G,80,-0.8\n5034,G,100,-2.2\n5034,G,130,-1.0\n5034,G,160,-0.4\n5034,G,185,-1.6\n5034,G,210,-0.8\n5034,G,235,-2.4\n5034,M,30,-1.8\n5034,M,50,-3.2\n5034,M,70,-2.4\n5034,M,140,-2.0\n5034,M,200,-2.8\n5034,M,225,-1.2\n5040,G,0,-0.4\n5040,G,15,-1.0\n5040,G,30,-0.2\n5040,G,45,-1.4\n5040,G,60,-0.6\n5040,G,80,-1.2\n5040,G,100,-0.4\n5040,G,120,-1.6\n5040,G,140,-0.8\n5040,G,160,-0.2\n5040,G,180,-1.4\n5040,G,200,-0.6\n5040,G,220,-1.2\n5040,G,240,-0.4\n5040,M,20,-2.2\n5040,M,90,-2.6\n5040,M,170,-2.8\n5040,M,215,-2.2\n5040,M,240,-1.6\n5041,G,70,-1.8\n5041,G,125,-2.4\n5046,G,10,-1.4\n5046,G,60,-2.6\n5046,G,90,-2.4\n5046,G,150,-2.2\n5046,G,235,-1.8\n5046,M,5,-2.2\n5046,M,25,-3.4\n5046,M,200,-3.6\n5046,M,40,-2.6\n5050,G,0,0.0\n5050,G,10,-1.0\n5050,G,40,-1.8\n5050,G,60,-2.4\n5050,G,130,-2.0\n5050,G,190,-1.6\n5050,G,220,-3.0\n5050,G,240,-1.8\n5050,M,100,-2.8\n5050,M,170,-2.4\n5051,G,20,-2.4\n5051,G,80,-2.0\n5051,G,100,-1.8\n5051,G,190,-1.6\n5051,G,230,-1.4\n5051,M,50,-2.2\n5051,M,70,-1.0\n5051,M,120,-1.6\n5051,M,140,-2.8\n5052,G,0,-0.6\n5052,G,15,-1.6\n5052,G,30,-0.8\n5052,G,50,-2.0\n5052,G,70,-1.2\n5052,G,130,-2.4\n5052,G,180,-0.4\n5052,G,200,-1.4\n5052,G,225,-0.8\n5052,G,240,-2.2\n5052,M,40,-2.8\n5052,M,80,-1.6\n5052,M,100,-3.0\n5052,M,150,-3.2\n5052,M,170,-2.6\n5058,G,0,-1.8\n5058,M,120,-2.6\n5086,G,0,-1.6\n5086,G,20,-0.8\n5086,G,40,-2.2\n5086,G,60,-1.2\n5086,G,80,-0.4\n5086,G,100,-1.6\n5086,G,120,-1.0\n5086,G,140,-2.0\n5086,G,160,-1.0\n5086,G,180,-0.4\n5086,G,200,-1.6\n5086,G,220,-0.8\n5086,G,240,-2.4\n5086,M,10,-0.2\n5086,M,30,-1.2\n5086,M,90,-2.6\n5086,M,150,-2.2\n5086,M,210,-1.6\n5086,M,240,0.2\n5095,G,0,-1.2\n5095,G,10,-0.4\n5095,G,20,-1.6\n5095,G,30,-0.6\n5095,G,45,-1.0\n5095,G,60,-0.2\n5095,G,75,-1.4\n5095,G,90,-0.6\n5095,G,130,-0.4\n5095,G,150,0.6\n5095,G,180,1.4\n5095,G,195,0.8\n5095,G,210,1.8\n5095,G,225,1.0\n5095,G,240,2.0\n5095,M,5,-4.8\n5095,M,40,-1.8\n5095,M,160,2.2\n5095,M,200,1.6\n5095,M,120,-1.0\n5104,G,0,-1.0\n5104,G,20,-0.6\n5104,G,40,-1.4\n5104,G,80,-1.0\n5104,G,120,-2.4\n5104,G,150,-1.2\n5104,G,170,-0.6\n5104,G,195,-1.4\n5104,G,215,-0.8\n5104,G,240,-1.2\n5104,M,30,-2.0\n5104,M,70,-1.6\n5104,M,180,-2.2\n5104,M,240,-4.8\n5108,G,0,-2.0\n5108,G,20,-2.2\n5108,G,40,-2.2\n5108,G,60,-2.0\n5108,G,140,-1.8\n5108,G,175,-2.2\n5108,M,10,-2.2\n5108,M,110,-1.0\n5111,G,10,-1.4\n5111,G,30,-2.0\n5111,G,50,-1.0\n5111,G,70,-1.8\n5111,G,100,-1.2\n5111,G,130,-2.2\n5111,G,150,-1.0\n5111,G,170,-1.6\n5111,G,190,-2.6\n5111,G,210,-1.4\n5111,G,230,-0.6\n5111,G,240,-2.4\n5111,M,15,-0.8\n5111,M,60,-1.2\n5111,M,110,-0.6\n5111,M,200,-1.8\n5118,G,0,-1.0\n5118,G,20,-0.2\n5118,G,40,-1.4\n5118,G,60,-0.6\n5118,G,80,-1.8\n5118,G,100,-0.8\n5118,G,120,-0.2\n5118,G,140,-1.2\n5118,G,160,-0.6\n5118,G,180,-1.6\n5118,G,200,-0.4\n5118,G,220,-1.0\n5118,G,240,-0.6\n5118,M,30,-0.8\n5118,M,90,-1.4\n5118,M,190,-2.2\n5118,M,230,-0.4\n5119,G,0,-1.2\n5119,G,20,-2.0\n5119,G,40,-0.8\n5119,G,60,-1.6\n5119,G,90,-0.6\n5119,G,120,-1.2\n5119,G,150,-1.8\n5119,G,180,-1.0\n5119,G,210,-0.4\n5119,G,235,-1.6\n5119,M,30,-1.8\n5119,M,100,-1.4\n5119,M,160,-0.8\n5119,M,220,-2.2\n5122,G,0,-1.2\n5122,G,20,-1.8\n5122,G,40,-1.6\n5122,G,70,-2.0\n5122,G,150,-1.8\n5122,M,10,-3.4\n5122,M,210,0.8\n5122,M,230,-0.8\n5123,G,0,-0.6\n5123,G,15,-1.4\n5123,G,30,-0.4\n5123,G,50,-1.8\n5123,G,65,-0.8\n5123,G,85,-0.2\n5123,G,100,-1.2\n5123,G,120,-0.4\n5123,G,140,-1.6\n5123,G,160,-0.6\n5123,G,180,0.0\n5123,G,200,-1.2\n5123,G,220,-0.4\n5123,G,240,-1.6\n5123,M,20,-0.2\n5123,M,110,-1.8\n5123,M,200,-0.6\n5123,M,235,-2.2\n5125,G,20,-1.8\n5125,G,200,-2.4\n5125,M,70,-3.0\n5125,M,120,-1.2\n5125,M,180,-0.6\n5125,M,215,-1.6\n5126,G,0,-1.6\n5126,G,30,-0.8\n5126,G,60,-2.2\n5126,G,100,-1.2\n5126,G,140,-2.0\n5126,G,170,-0.6\n5126,G,200,-1.8\n5126,G,235,-1.0\n5126,M,20,-2.6\n5126,M,80,-1.0\n5126,M,160,-2.8\n5126,M,220,-0.2\n5129,G,0,-1.2\n5129,G,15,-0.6\n5129,G,30,-1.6\n5129,G,50,-0.8\n5129,G,70,-1.4\n5129,G,90,-0.6\n5129,G,110,-1.2\n5129,G,130,-1.8\n5129,G,150,-0.8\n5129,G,170,-1.4\n5129,G,190,-0.6\n5129,G,210,-1.2\n5129,G,230,-1.8\n5129,M,40,-1.6\n5129,M,80,-1.0\n5129,M,120,-3.4\n5129,M,200,-1.6\n5131,G,0,-1.0\n5131,G,20,-1.6\n5131,G,40,-0.8\n5131,G,70,-1.2\n5131,G,100,-0.6\n5131,G,130,-1.4\n5131,G,160,-1.0\n5131,G,190,-0.4\n5131,G,220,-1.6\n5131,M,60,-1.4\n5131,M,150,-0.8\n5131,M,240,-4.6\n5137,G,0,-1.0\n5137,G,20,-1.6\n5137,G,50,-1.4\n5137,G,80,-0.6\n5137,G,110,-1.0\n5137,G,140,-0.4\n5137,G,170,-1.2\n5137,G,200,-1.8\n5137,G,230,-1.4\n5137,M,30,-1.8\n5137,M,90,-1.2\n5137,M,120,-3.6\n5141,G,20,-1.0\n5141,G,60,-1.6\n5141,G,90,-0.8\n5141,G,150,-2.0\n5141,G,210,-0.6\n5141,G,230,-1.8\n5141,G,240,-4.0\n5141,M,100,-1.4\n5141,M,115,-1.8\n5141,M,160,0.6\n5141,M,125,-1.2\n5156,G,0,-0.8\n5156,G,20,-1.4\n5156,G,40,-0.4\n5156,G,60,-1.2\n5156,G,80,-0.6\n5156,G,100,-1.6\n5156,G,120,-0.8\n5156,G,140,-0.2\n5156,G,160,-1.2\n5156,G,180,-0.6\n5156,G,200,-1.4\n5156,G,220,-0.8\n5156,G,240,-1.2\n5156,M,30,-1.8\n5156,M,90,-2.4\n5156,M,150,-1.6\n5156,M,190,-0.8\n5156,M,235,-2.0\n5158,G,10,-1.4\n5158,G,30,-2.8\n5158,G,140,-1.8\n5158,G,155,-1.6\n5161,G,0,-1.6\n5161,G,30,-1.0\n5161,G,60,-1.8\n5161,G,110,-1.4\n5161,G,150,-1.8\n5161,G,200,-1.0\n5161,M,20,-1.2\n5161,M,180,-2.4\n5161,M,220,-0.6\n5164,G,0,-0.8\n5164,G,20,-1.4\n5164,G,40,-0.2\n5164,G,60,-1.0\n5164,G,80,-0.4\n5164,G,100,-1.2\n5164,G,120,-0.6\n5164,G,150,-1.4\n5164,G,170,-0.4\n5164,G,190,-1.0\n5164,G,210,-0.6\n5164,G,235,-1.2\n5164,M,10,-2.8\n5164,M,50,-1.8\n5164,M,130,-0.8\n5164,M,180,-2.6\n5164,M,230,-1.6\n5165,G,0,-1.0\n5165,G,20,-0.6\n5165,G,90,-1.4\n5165,G,130,-0.8\n5165,G,150,-1.6\n5165,G,170,-2.8\n5165,G,190,-1.2\n5165,M,10,-1.6\n5165,M,200,-2.4\n5165,M,180,-0.8\n5166,G,10,-1.0\n5166,G,60,-3.0\n5166,G,120,-2.4\n5166,G,160,-3.4\n5166,G,230,-1.2\n5166,M,30,-2.4\n5166,M,200,-2.0\n5168,G,10,-1.2\n5168,G,20,-2.0\n5168,G,40,-1.4\n5168,G,140,-2.4\n5168,G,170,-1.8\n5168,G,200,-1.0\n5168,G,230,0.2\n5168,M,80,-2.2\n5168,M,90,-1.6\n5168,M,140,-0.8\n5168,M,180,-1.0\n5169,G,0,-0.8\n5169,G,15,-1.4\n5169,G,30,-0.4\n5169,G,45,-1.2\n5169,G,60,-0.6\n5169,G,75,-1.6\n5169,G,90,-0.8\n5169,G,110,-0.2\n5169,G,130,-1.2\n5169,G,150,-0.6\n5169,G,170,-1.4\n5169,G,190,-0.4\n5169,G,210,-1.0\n5169,G,230,-0.6\n5169,G,240,-1.4\n5169,M,20,-2.4\n5169,M,100,-2.6\n5169,M,160,-1.8\n5169,M,225,-2.8\n5174,G,0,-1.0\n5174,G,15,-1.8\n5174,G,30,-0.6\n5174,G,50,-1.4\n5174,G,70,-2.0\n5174,G,90,-0.8\n5174,G,110,-1.6\n5174,G,130,-1.0\n5174,G,150,-2.2\n5174,G,170,-1.2\n5174,G,190,-0.6\n5174,G,210,-1.8\n5174,G,230,-1.0\n5174,G,240,-2.4\n5174,M,10,-4.4\n5174,M,80,-2.6\n5174,M,140,-1.6\n5174,M,200,-2.6\n5174,M,235,-4.2\n5175,G,0,-1.8\n5175,G,30,-0.8\n5175,G,60,-2.2\n5175,G,100,-1.2\n5175,G,140,-1.4\n5175,G,200,-1.6\n5175,G,230,-2.8\n5175,M,10,-0.4\n5175,M,40,-1.2\n5175,M,150,-3.0\n5175,M,220,0.2\n5175,M,210,-3.4\n5176,G,0,-1.2\n5176,G,30,-0.6\n5176,G,60,-1.4\n5176,G,90,-0.8\n5176,G,120,-1.6\n5176,G,150,-1.0\n5176,G,180,-2.2\n5176,G,210,-1.2\n5176,G,235,-0.6\n5176,M,40,-1.8\n5176,M,130,-0.6\n5176,M,200,-2.4\n5178,G,0,-0.4\n5178,G,15,0.4\n5178,G,30,-0.8\n5178,G,45,0.2\n5178,G,60,-1.2\n5178,G,75,0.6\n5178,G,90,-0.4\n5178,G,105,0.2\n5178,G,120,-1.0\n5178,G,140,0.4\n5178,G,155,-0.6\n5178,G,170,0.2\n5178,G,190,-1.2\n5178,G,210,0.0\n5178,G,225,-0.8\n5178,G,240,0.4\n5178,M,20,-2.2\n5178,M,80,-1.6\n5178,M,170,-2.4\n5178,M,230,-1.8\n5179,G,0,-1.8\n5179,G,30,-1.2\n5179,G,60,-2.2\n5179,G,90,-1.0\n5179,G,120,-1.8\n5179,G,150,-0.8\n5179,G,190,-1.4\n5179,G,225,-2.0\n5179,M,20,-2.6\n5179,M,100,-2.2\n5179,M,160,-1.6\n5179,M,200,-2.4\n5182,G,0,-0.2\n5182,G,15,-1.0\n5182,G,30,-0.6\n5182,G,50,-1.4\n5182,G,70,-0.4\n5182,G,90,-1.2\n5182,G,110,-0.8\n5182,G,130,-1.6\n5182,G,150,-0.4\n5182,G,170,-1.0\n5182,G,190,-1.8\n5182,G,210,-0.6\n5182,G,230,-1.4\n5182,M,20,-1.4\n5182,M,60,-2.2\n5182,M,140,-1.0\n5182,M,200,-2.0\n5182,M,240,-4.4\n5183,G,0,-0.2\n5183,G,15,-0.8\n5183,G,30,0.2\n5183,G,45,-0.6\n5183,G,60,-1.0\n5183,G,75,0.0\n5183,G,90,-0.6\n5183,G,110,-1.2\n5183,G,130,-0.2\n5183,G,150,-0.8\n5183,G,170,0.2\n5183,G,190,-0.6\n5183,G,210,-1.2\n5183,G,230,-0.2\n5183,G,240,-0.8\n5183,M,40,-1.6\n5183,M,120,-2.4\n5183,M,200,-1.8",
            "format": {"type": "csv", "parse": {"s": "string", "c": "string", "t": "number", "v": "number"}}
          },
          "facet": {"field": "s", "type": "ordinal", "header": {"labelExpr": "''", "labelFontSize": 1, "labelPadding": 0, "title": null}},
          "columns": 10,
          "bounds": "flush",
          "spacing": {"row": 3.6, "column": 6},
          "spec": {
            "width": 45,
            "height": 30.8,
            "layer": [
              {
                "transform": [{"filter": "datum.c == 'B'"}],
                "mark": {"type": "line", "strokeWidth": 3, "color": "#F8766D"},
                "encoding": {
                  "x": {"field": "t", "type": "quantitative", "scale": {"domain": [-13, 254], "nice": false, "zero": false}, "axis": {"values": [0, 50, 100, 150, 200, 250], "labelOverlap": false, "labelExpr": "datum.value % 100 == 0 ? datum.label : ''", "gridWidth": {"condition": {"test": "datum.value % 100 == 0", "value": 1}, "value": 0.5}, "tickOpacity": {"condition": {"test": "datum.value % 100 == 0", "value": 1}, "value": 0}}},
                  "y": {"field": "v", "type": "quantitative", "scale": {"domain": [-6.2, 8.2], "nice": false, "zero": false}, "axis": {"values": [-5, -4, -3, -2, -1, 0, 1, 2], "labelOverlap": false, "labelExpr": "datum.value % 2 == 0 ? datum.label : ''", "gridWidth": {"condition": {"test": "datum.value % 2 == 0", "value": 1}, "value": 0.5}, "tickOpacity": {"condition": {"test": "datum.value % 2 == 0", "value": 1}, "value": 0}}}
                }
              },
              {
                "transform": [{"filter": "datum.c == 'C'"}],
                "mark": {"type": "line", "strokeWidth": 3, "color": "#00BFC4"},
                "encoding": {
                  "x": {"field": "t", "type": "quantitative", "scale": {"domain": [-13, 254], "nice": false, "zero": false}, "axis": {"values": [0, 50, 100, 150, 200, 250], "labelOverlap": false, "labelExpr": "datum.value % 100 == 0 ? datum.label : ''", "gridWidth": {"condition": {"test": "datum.value % 100 == 0", "value": 1}, "value": 0.5}, "tickOpacity": {"condition": {"test": "datum.value % 100 == 0", "value": 1}, "value": 0}}},
                  "y": {"field": "v", "type": "quantitative", "scale": {"domain": [-6.2, 8.2], "nice": false, "zero": false}, "axis": {"values": [-5, -4, -3, -2, -1, 0, 1, 2], "labelOverlap": false, "labelExpr": "datum.value % 2 == 0 ? datum.label : ''", "gridWidth": {"condition": {"test": "datum.value % 2 == 0", "value": 1}, "value": 0.5}, "tickOpacity": {"condition": {"test": "datum.value % 2 == 0", "value": 1}, "value": 0}}}
                }
              },
              {
                "transform": [{"filter": "datum.c == 'G' || datum.c == 'M'"}],
                "mark": {"type": "point", "filled": true, "size": 8, "opacity": 1},
                "encoding": {
                  "x": {"field": "t", "type": "quantitative", "scale": {"domain": [-13, 254], "nice": false, "zero": false}, "axis": {"values": [0, 50, 100, 150, 200, 250], "labelOverlap": false, "labelExpr": "datum.value % 100 == 0 ? datum.label : ''", "gridWidth": {"condition": {"test": "datum.value % 100 == 0", "value": 1}, "value": 0.5}, "tickOpacity": {"condition": {"test": "datum.value % 100 == 0", "value": 1}, "value": 0}}},
                  "y": {"field": "v", "type": "quantitative", "scale": {"domain": [-6.2, 8.2], "nice": false, "zero": false}, "axis": {"values": [-5, -4, -3, -2, -1, 0, 1, 2], "labelOverlap": false, "labelExpr": "datum.value % 2 == 0 ? datum.label : ''", "gridWidth": {"condition": {"test": "datum.value % 2 == 0", "value": 1}, "value": 0.5}, "tickOpacity": {"condition": {"test": "datum.value % 2 == 0", "value": 1}, "value": 0}}},
                  "color": {
                    "field": "c", "type": "nominal",
                    "scale": {"domain": ["G", "M"], "range": ["#F8766D", "#00BFC4"]},
                    "legend": {
                      "title": "condition",
                      "labelExpr": "datum.value == 'G' ? 'Gesture' : 'Grooming Movement'",
                      "symbolType": "circle",
                      "symbolSize": 14,
                      "legendX": 510,
                      "legendY": 144
                    }
                  }
                }
              },
              {
                "transform": [{"aggregate": [{"op": "count", "as": "n"}], "groupby": ["s"]}],
                "mark": {"type": "rect", "color": "#D9D9D9"},
                "encoding": {
                  "x": {"datum": -13, "scale": {"domain": [-13, 254], "nice": false, "zero": false}, "axis": {"values": [0, 50, 100, 150, 200, 250], "labelOverlap": false, "labelExpr": "datum.value % 100 == 0 ? datum.label : ''", "gridWidth": {"condition": {"test": "datum.value % 100 == 0", "value": 1}, "value": 0.5}, "tickOpacity": {"condition": {"test": "datum.value % 100 == 0", "value": 1}, "value": 0}}},
                  "x2": {"datum": 254},
                  "y": {"datum": 3.2, "scale": {"domain": [-6.2, 8.2], "nice": false, "zero": false}, "axis": {"values": [-5, -4, -3, -2, -1, 0, 1, 2], "labelOverlap": false, "labelExpr": "datum.value % 2 == 0 ? datum.label : ''", "gridWidth": {"condition": {"test": "datum.value % 2 == 0", "value": 1}, "value": 0.5}, "tickOpacity": {"condition": {"test": "datum.value % 2 == 0", "value": 1}, "value": 0}}},
                  "y2": {"datum": 8.2}
                }
              },
              {
                "transform": [{"aggregate": [{"op": "count", "as": "n"}], "groupby": ["s"]}],
                "mark": {"type": "text", "fontSize": 7, "color": "#1A1A1A", "baseline": "middle"},
                "encoding": {
                  "x": {"datum": 120.5, "scale": {"domain": [-13, 254], "nice": false, "zero": false}, "axis": {"values": [0, 50, 100, 150, 200, 250], "labelOverlap": false, "labelExpr": "datum.value % 100 == 0 ? datum.label : ''", "gridWidth": {"condition": {"test": "datum.value % 100 == 0", "value": 1}, "value": 0.5}, "tickOpacity": {"condition": {"test": "datum.value % 100 == 0", "value": 1}, "value": 0}}},
                  "y": {"datum": 5.7, "scale": {"domain": [-6.2, 8.2], "nice": false, "zero": false}, "axis": {"values": [-5, -4, -3, -2, -1, 0, 1, 2], "labelOverlap": false, "labelExpr": "datum.value % 2 == 0 ? datum.label : ''", "gridWidth": {"condition": {"test": "datum.value % 2 == 0", "value": 1}, "value": 0.5}, "tickOpacity": {"condition": {"test": "datum.value % 2 == 0", "value": 1}, "value": 0}}},
                  "text": {"field": "s", "type": "nominal"}
                }
              }
            ]
          }
        }
      ]
    }
  ]
}
